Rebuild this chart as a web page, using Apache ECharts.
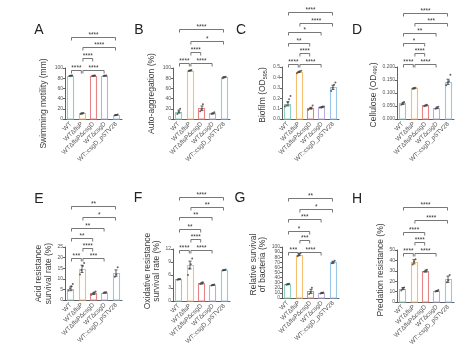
<!DOCTYPE html>
<html><head><meta charset="utf-8">
<script src="https://cdn.jsdelivr.net/npm/echarts@6/dist/echarts.min.js"></script>
<style>html,body{margin:0;padding:0;background:#fff}#c{width:474px;height:357px}</style>
</head><body><div id="c"></div>
<script>
const groups = ['WT', 'WTΔflsP', 'WTΔflsPΔcsgD', 'WTΔcsgD', 'WT::csgD_pSTV28'];
const barColors = ['#8fd1bf', '#f2c070', '#e58585', '#b8aee0', '#9cc6e6'];
const letters = ['A', 'B', 'C', 'D', 'E', 'F', 'G', 'H'];

const meanA = [85, 11, 85, 85, 8];
const semA = [0.6, 1, 0.6, 0.6, 0.8];
const ptsA = [[84.5, 85, 85.5], [10, 11, 12], [84.5, 85, 85.5], [84.5, 85, 85.5], [7, 8, 9]];
const sigA = [[0, 1, 96, '****'], [1, 3, 96, '****'], [1, 2, 120, '****'], [1, 4, 141, '****'], [0, 4, 160, '****']];

const meanB = [14.5, 95, 21, 11, 82];
const semB = [3, 0.6, 4.5, 1, 1];
const ptsB = [[10, 14, 20], [94, 95, 96], [15, 19, 29], [10, 11, 13], [80, 82, 83]];
const sigB = [[0, 1, 109, '****'], [1, 3, 109, '****'], [1, 2, 132, '****'], [1, 4, 153, '*'], [0, 4, 176, '****']];

const meanC = [0.146, 0.453, 0.104, 0.114, 0.304];
const semC = [0.02, 0.005, 0.008, 0.005, 0.02];
const ptsC = [[0.12, 0.13, 0.16, 0.19, 0.22], [0.44, 0.45, 0.46, 0.465], [0.09, 0.1, 0.1, 0.13], [0.11, 0.11, 0.12, 0.12], [0.27, 0.3, 0.33, 0.35]];
const sigC = [[0, 1, 0.529, '****'], [1, 3, 0.529, '****'], [1, 2, 0.638, '****'], [0, 2, 0.734, '**'], [0, 3, 0.834, '*'], [1, 4, 0.926, '****'], [0, 4, 1.026, '****']];

const meanD = [0.06, 0.118, 0.052, 0.043, 0.143];
const semD = [0.004, 0.002, 0.002, 0.003, 0.01];
const ptsD = [[0.055, 0.06, 0.065], [0.116, 0.118, 0.12], [0.049, 0.052, 0.055], [0.039, 0.043, 0.047], [0.13, 0.14, 0.145, 0.17]];
const sigD = [[0, 1, 0.2115, '****'], [1, 3, 0.2115, '****'], [1, 2, 0.254, '****'], [0, 2, 0.292, '*'], [0, 3, 0.331, '**'], [1, 4, 0.369, '***'], [0, 4, 0.408, '****']];

const meanE = [5.4, 14.7, 3.1, 3.5, 12.7];
const semE = [1, 1.7, 0.5, 0.2, 1.5];
const ptsE = [[4.5, 5.5, 6.5, 7.5], [12, 14, 16, 17.5], [2.5, 3, 3.5, 4], [3.3, 3.5, 3.7], [11, 12, 15.5]];
const sigE = [[0, 1, 20, '***'], [1, 3, 20, '***'], [1, 2, 24.7, '****'], [0, 2, 29.4, '**'], [0, 3, 34.1, '**'], [1, 4, 39.3, '*'], [0, 4, 44.5, '**']];

const meanF = [5.0, 8.3, 4.1, 3.7, 7.15];
const semF = [0.1, 0.9, 0.2, 0.1, 0.1];
const ptsF = [[4.9, 5.0, 5.1], [6, 7.5, 8.5, 9.8], [3.9, 4.1, 4.3], [3.6, 3.7, 3.8], [7.05, 7.15, 7.25]];
const sigF = [[0, 1, 11.8, '****'], [1, 3, 11.8, '****'], [1, 2, 14.3, '****'], [0, 2, 16.6, '**'], [0, 3, 19.5, '**'], [1, 4, 21.8, '**'], [0, 4, 24.1, '****']];

const meanG = [27, 85, 13, 10, 70];
const semG = [1, 2, 4, 1, 2];
const ptsG = [[26, 27, 28], [82, 85, 88], [8, 12, 20], [9, 10, 11], [68, 70, 73]];
const sigG = [[0, 1, 91, '***'], [1, 3, 91, '****'], [1, 2, 113, '***'], [0, 2, 132, '*'], [0, 3, 155, '***'], [1, 4, 175, '*'], [0, 4, 196, '**']];

const meanH = [12.9, 38.7, 29.7, 10.6, 21.9];
const semH = [1, 2, 1, 0.5, 3];
const ptsH = [[11, 13, 14], [36, 39, 41], [29, 30, 31], [10, 10.5, 11.5], [19, 21, 26]];
const sigH = [[0, 1, 46.8, '****'], [1, 3, 46.8, '****'], [1, 2, 58, '****'], [0, 2, 67.7, '****'], [1, 4, 79, '****'], [0, 4, 91.3, '****']];

const yMax = [100, 100, 0.5, 0.2, 25, 12, 100, 50];
const yStep = [20, 20, 0.1, 0.05, 5, 3, 10, 10];
const yDecimals = [0, 0, 1, 3, 0, 0, 0, 0];
const yTitles = [
  'Swimming motility (mm)',
  'Auto-aggregation (%)',
  '{t|Biofilm (OD}{s|595}{t|)}',
  '{t|Cellulose (OD}{s|490}{t|)}',
  'Acid resistance\nsurvival rate (%)',
  'Oxidative resistance\nsurvival rate (%)',
  'Relative survival\nof bacteria (%)',
  'Predation resistance (%)'
];

const panels = [
  [meanA, semA, ptsA, sigA], [meanB, semB, ptsB, sigB], [meanC, semC, ptsC, sigC], [meanD, semD, ptsD, sigD],
  [meanE, semE, ptsE, sigE], [meanF, semF, ptsF, sigF], [meanG, semG, ptsG, sigG], [meanH, semH, ptsH, sigH]
];

// layout (pixels); shift > 0 moves the axis title toward the top, < 0 toward the bottom
const layout = [
  {left: 65, top: 68, bottom: 119, gap: 16, shift: -10, letter: [39, 30]},
  {left: 173, top: 68, bottom: 119, gap: 16, shift: 0, letter: [139, 30]},
  {left: 282, top: 67, bottom: 119, gap: 14, shift: -2, letter: [241, 30]},
  {left: 397, top: 67, bottom: 119, gap: 17, shift: -2, letter: [357, 30]},
  {left: 65, top: 247, bottom: 300, gap: 12, shift: 0, letter: [39, 199]},
  {left: 173, top: 249, bottom: 301, gap: 11, shift: 4, letter: [138, 198]},
  {left: 282, top: 247, bottom: 298, gap: 14, shift: 8, letter: [240, 198]},
  {left: 397, top: 250, bottom: 302, gap: 10, shift: 6, letter: [357, 199]}
];
const catW = 11.4;
const barPx = 7;
const axisColor = '#3a3a3a';

const grids = [], xAxes = [], yAxes = [], series = [], graphics = [];
panels.forEach((p, k) => {
  const [mean, sem, pts, sig] = p;
  const L = layout[k];
  grids.push({left: L.left, top: L.top, width: catW * 5, height: L.bottom - L.top});
  xAxes.push({
    type: 'category', gridIndex: k, data: groups,
    axisLine: {lineStyle: {color: axisColor, width: 0.8}},
    axisTick: {alignWithLabel: true, length: 2, lineStyle: {color: axisColor, width: 0.8}},
    axisLabel: {rotate: 45, fontSize: 6.3, color: '#555', margin: 4, interval: 0}
  });
  const nm = yTitles[k];
  const twoLine = nm.indexOf('\n') >= 0;
  const fs = 8.5;
  const pad = L.shift >= 0 ? [0, 0, 0, 2 * L.shift] : [0, -2 * L.shift, 0, 0];
  yAxes.push({
    type: 'value', gridIndex: k, min: 0, max: yMax[k], interval: yStep[k],
    axisLine: {show: true, lineStyle: {color: axisColor, width: 0.8}},
    axisTick: {show: true, length: 2, lineStyle: {color: axisColor, width: 0.8}},
    splitLine: {show: false},
    axisLabel: {fontSize: 5, color: '#555', margin: 2, formatter: v => v.toFixed(yDecimals[k])},
    name: nm, nameLocation: 'middle', nameGap: L.gap,
    nameTextStyle: {
      fontSize: fs, color: '#3c3c3c', lineHeight: twoLine ? 9.5 : 10,
      padding: pad,
      rich: {t: {fontSize: fs, color: '#3c3c3c'}, s: {fontSize: 5.5, color: '#3c3c3c', verticalAlign: 'bottom', padding: [3, 0, 0, 0]}}
    }
  });
  // bars (hollow, coloured outline)
  series.push({
    type: 'custom', xAxisIndex: k, yAxisIndex: k, silent: true, clip: false, z: 3,
    encode: {x: 0, y: 1},
    data: mean.map((v, i) => [i, v]),
    renderItem: (params, api) => {
      const i = api.value(0), v = api.value(1);
      const base = api.coord([i, 0]), top = api.coord([i, v]);
      const x0 = Math.round(base[0] - barPx / 2) + 0.5;
      const yTop = Math.round(top[1]) + 0.5;
      return {type: 'group', children: [
        {type: 'rect', shape: {x: x0, y: yTop, width: barPx - 1, height: base[1] - yTop},
          style: {fill: 'rgba(255,255,255,1)', stroke: barColors[i], lineWidth: 1.1}}
      ]};
    }
  });
  // error bars
  series.push({
    type: 'custom', xAxisIndex: k, yAxisIndex: k, silent: true, clip: false, z: 4,
    encode: {x: 0, y: 1},
    data: mean.map((v, i) => [i, v, sem[i]]),
    renderItem: (params, api) => {
      const i = api.value(0), m = api.value(1), s = api.value(2);
      const lo = api.coord([i, m - s]), hi = api.coord([i, m + s]);
      const x = Math.round(lo[0]);
      return {type: 'group', children: [
        {type: 'line', shape: {x1: x, y1: lo[1], x2: x, y2: hi[1]}, style: {stroke: '#222', lineWidth: 0.7}},
        {type: 'line', shape: {x1: x - 1.5, y1: lo[1], x2: x + 1.5, y2: lo[1]}, style: {stroke: '#222', lineWidth: 0.7}},
        {type: 'line', shape: {x1: x - 1.5, y1: hi[1], x2: x + 1.5, y2: hi[1]}, style: {stroke: '#222', lineWidth: 0.7}}
      ]};
    }
  });
  const sdata = [];
  pts.forEach((arr, i) => arr.forEach((v, j) => {
    sdata.push({value: [i, v], symbolOffset: [(j - (arr.length - 1) / 2) * 1.4, 0]});
  }));
  series.push({
    type: 'scatter', xAxisIndex: k, yAxisIndex: k, silent: true, z: 5,
    symbol: 'circle', symbolSize: 2, itemStyle: {color: '#444'}, data: sdata
  });
  series.push({
    type: 'custom', xAxisIndex: k, yAxisIndex: k, silent: true, clip: false, z: 6,
    encode: {x: 0, y: 2},
    data: sig.map(b => [b[0], b[1], b[2]]),
    renderItem: (params, api) => {
      const a = api.value(0), b = api.value(1), lv = api.value(2);
      const p1 = api.coord([a, lv]), p2 = api.coord([b, lv]);
      const x1 = p1[0] + 0.8, x2 = p2[0] - 0.8, y = Math.round(p1[1]) + 0.5;
      return {type: 'group', children: [
        {type: 'polyline', shape: {points: [[x1, y + 3], [x1, y], [x2, y], [x2, y + 3]]}, style: {stroke: '#555', lineWidth: 0.8, fill: null}},
        {type: 'text', style: {text: sig[params.dataIndex][3], x: (x1 + x2) / 2, y: y + 1, align: 'center', verticalAlign: 'bottom', fontSize: 6.5, fill: '#333'}}
      ]};
    }
  });
  graphics.push({type: 'text', x: L.letter[0], y: L.letter[1], style: {text: letters[k], fontSize: 14, fill: '#222', align: 'center', verticalAlign: 'middle', fontFamily: 'Liberation Sans, Arial, sans-serif'}});
});

const chart = echarts.init(document.getElementById('c'), null, {renderer: 'canvas'});
chart.setOption({
  backgroundColor: '#fff',
  animation: false,
  textStyle: {fontFamily: 'Liberation Sans, Arial, sans-serif'},
  grid: grids, xAxis: xAxes, yAxis: yAxes, series: series, graphic: graphics
});
</script>
</body></html>
